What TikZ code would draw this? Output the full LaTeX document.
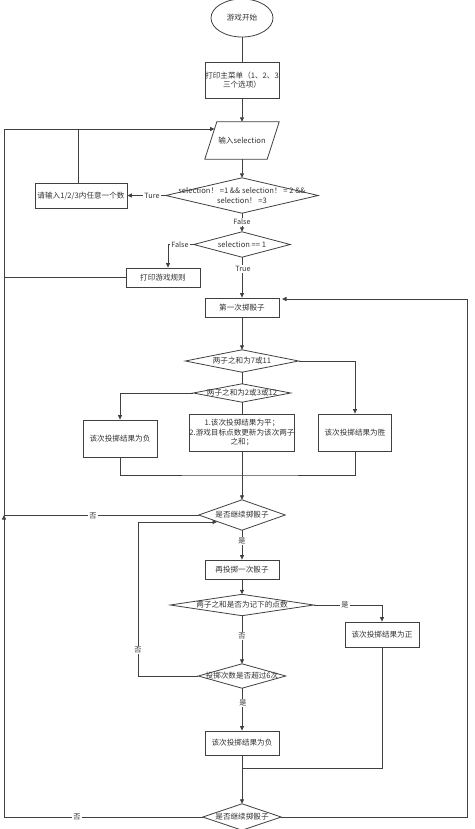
\documentclass[tikz,border=0pt]{standalone}
\usepackage{fontspec}
\setmainfont{Noto Sans CJK SC}
\usetikzlibrary{arrows.meta,shapes.geometric,calc}
\definecolor{ln}{HTML}{404040}
\definecolor{tx}{HTML}{333333}
\begin{document}
\begin{tikzpicture}[x=1pt,y=-1pt,
  every node/.style={font=\fontsize{7.6}{9.5}\selectfont, text=tx},
  box/.style={draw=ln, line width=0.8pt, rectangle, inner sep=0pt, align=center},
  dia/.style={rectangle, inner sep=0pt, align=center},
  con/.style={draw=ln, line width=0.8pt},
  arr/.style={con, -{Triangle[length=4.5pt,width=4pt]}},
  lbl/.style={fill=white, inner sep=1pt, font=\fontsize{7.2}{8}\selectfont}]
\useasboundingbox (0,0) rectangle (474,829);
\fill[white] (0,0) rectangle (474,829);

% nodes
\node[ellipse, draw=ln, line width=0.8pt, minimum width=62pt, minimum height=38pt, inner sep=0pt] (start) at (242,18) {游戏开始};
\node[box, minimum width=74pt, minimum height=36pt] (menu) at (242,80) {打印主菜单（1、2、3\\三个选项）};
\node[dia, minimum width=74pt, minimum height=37pt] (inp) at (242,140.5) {输入selection};
\node[dia, minimum width=152pt, minimum height=35pt] (d1) at (242,195.5) {selection！ =1 \&\& selection！ = 2 \&\&\\selection！ =3};
\node[box, minimum width=92pt, minimum height=25pt] (ask) at (81,195.5) {请输入1/2/3内任意一个数};
\node[dia, minimum width=96pt, minimum height=25pt] (d2) at (242,244.5) {selection == 1};
\node[box, minimum width=74pt, minimum height=19pt] (rules) at (163,277.5) {打印游戏规则};
\node[box, minimum width=74pt, minimum height=19pt] (roll1) at (242,307.5) {第一次掷骰子};
\node[dia, minimum width=113pt, minimum height=22pt] (d3) at (242,361) {两子之和为7或11};
\node[dia, minimum width=97pt, minimum height=18pt] (d4) at (242,393) {两子之和为2或3或12};
\node[box, minimum width=74pt, minimum height=37pt] (lose1) at (120,438.5) {该次投掷结果为负};
\node[box, minimum width=104pt, minimum height=37pt] (tie) at (242,432.5) {1.该次投掷结果为平；\\2.游戏目标点数更新为该次两子\\之和；};
\node[box, minimum width=73pt, minimum height=37pt] (win) at (355,432.5) {该次投掷结果为胜};
\node[dia, minimum width=86pt, minimum height=30pt] (d5) at (242,515) {是否继续掷骰子};
\node[box, minimum width=74pt, minimum height=19pt] (roll2) at (242,569.5) {再投掷一次骰子};
\node[dia, minimum width=143pt, minimum height=21pt] (d6) at (242,605) {两子之和是否为记下的点数};
\node[box, minimum width=74pt, minimum height=25pt] (zheng) at (382,634.5) {该次投掷结果为正};
\node[dia, minimum width=87pt, minimum height=24pt] (d7) at (242,676) {投掷次数是否超过6次};
\node[box, minimum width=74pt, minimum height=24pt] (lose2) at (242,743) {该次投掷结果为负};
\node[dia, minimum width=78pt, minimum height=26pt] (d8) at (242,817) {是否继续掷骰子};

% shapes
\foreach \n in {d1,d2,d3,d4,d5,d6,d7,d8}
  \draw[con] (\n.west) -- (\n.north) -- (\n.east) -- (\n.south) -- cycle;
\draw[con] ([xshift=12pt]inp.north west) -- (inp.north east) -- ([xshift=-12pt]inp.south east) -- (inp.south west) -- cycle;

% coordinates
\coordinate (L1) at (4,129);
\coordinate (inpL) at (214.5,129);
\coordinate (J1) at (242,475);
\coordinate (L2) at (138,522);
\coordinate (d5in) at (217,522);
\coordinate (J2) at (242,768);
\coordinate (R1) at (467,299);
\coordinate (roll1in) at (282,299);

% connectors
\draw[con] (start) -- (menu);
\draw[arr] (menu) -- (inp);
\draw[arr] (inp) -- (d1);
\draw[arr] (d1.west) -- (ask.east);
\draw[con] ([xshift=-3pt]ask.north) -- ([xshift=-3pt]ask.north |- L1);
\draw[arr] (d1) -- (d2);
\draw[arr] (d2.west) -| ([xshift=5pt]rules.north);
\draw[con] (rules.west) -- (rules.west -| L1);
\draw[arr] (d2) -- (roll1);
\draw[arr] (roll1) -- (d3);
\draw[arr] (d3.east) -| (win.north);
\draw[con] (d3.south) -- (d4.north);
\draw[arr] (d4.west) -| (lose1.north);
\draw[con] (d4.south) -- (tie.north);
\draw[con] (lose1.south) |- (J1) -| (win.south);
\draw[arr] (tie.south) -- (d5.north);
\draw[arr] (d5.west) -- (d5.west -| L1) -- (L1) -- (inpL);
\draw[arr] (d8.west) -- (d8.west -| L1) -- (d5.west -| L1);
\draw[arr] (d5.south) -- (roll2.north);
\draw[arr] (roll2) -- (d6);
\draw[arr] (d6.east) -| (zheng.north);
\draw[arr] (d6.south) -- (d7.north);
\draw[arr] (d7.west) -| (L2) -- (d5in);
\draw[arr] (d7.south) -- (lose2.north);
\draw[arr] (lose2.south) -- (d8.north);
\draw[con] (zheng.south) |- (J2);
\draw[arr] (d8.east) -| (R1) -- (roll1in);

% labels
\node[lbl] (t1) at (152,195.5) {Ture};
\node[lbl] (t2) at (242,222) {False};
\node[lbl] (t3) at (180,244.5) {False};
\node[lbl] (t4) at (243,269) {True};
\node[lbl] (t5) at (93,516) {否};
\node[lbl] (t6) at (242,541) {是};
\node[lbl] (t7) at (345,605) {是};
\node[lbl] (t8) at (242,636) {否};
\node[lbl] (t9) at (138,650) {否};
\node[lbl] (t10) at (243,703) {是};
\node[lbl] (t11) at (77,817) {否};
\end{tikzpicture}
\end{document}
